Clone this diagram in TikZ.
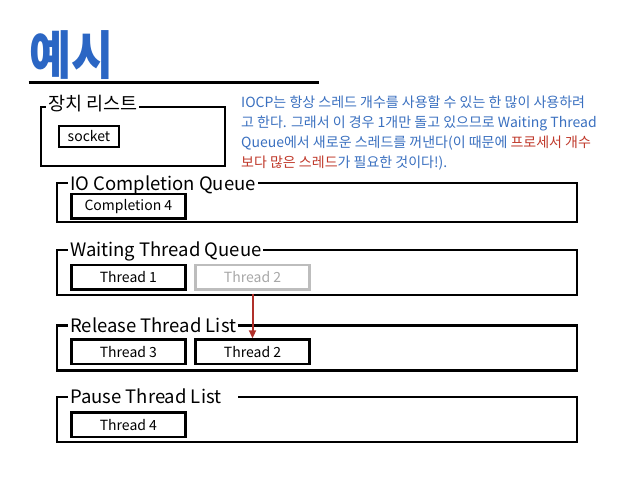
\documentclass[tikz,border=0pt]{standalone}
\usepackage{fontspec}
\setmainfont{Noto Sans CJK KR}
\usetikzlibrary{arrows.meta}
\definecolor{titleblue}{HTML}{2B66C4}
\definecolor{noteblue}{HTML}{3A70C0}
\definecolor{notered}{HTML}{C0392B}
\definecolor{arrowred}{HTML}{B0302A}
\definecolor{ghost}{HTML}{BDBDBD}
\definecolor{ghosttext}{HTML}{A8A8A8}
\begin{document}
\begin{tikzpicture}[x=1pt,y=-1pt,
  groupbox/.style={draw, line width=2.5pt, rectangle, minimum width=520pt, inner sep=0pt},
  grouplabel/.style={anchor=base west, fill=white, inner xsep=2pt, inner ysep=1pt, font=\fontsize{18.5}{22}\selectfont},
  itembox/.style={draw, line width=2.5pt, minimum width=114pt, minimum height=24.5pt, inner sep=0pt, font=\fontsize{14}{16}\selectfont},
  ghostbox/.style={itembox, draw=ghost, text=ghosttext},
  noteline/.style={anchor=base west, inner sep=0pt, text=noteblue, font=\fontsize{14}{20}\selectfont}]
\useasboundingbox[fill=white] (0,0) rectangle (638,478);

% title
\node[anchor=base west, inner sep=0pt, text=titleblue, xscale=0.88, font=\fontsize{52}{60}\selectfont\bfseries] (title) at (29,75) {예시};
\coordinate (rulel) at (28.5,82.5);
\coordinate (ruler) at (318.5,82.5);
\draw[line width=3pt] (rulel) -- (ruler);

% device list
\node[draw, line width=2.5pt, minimum width=184pt, minimum height=59pt, inner sep=0pt] (dev) at (133,136.5) {};
\node[anchor=base west, fill=white, inner xsep=2pt, inner ysep=1pt, font=\fontsize{18.5}{20}\selectfont] (devl) at (46,111) {장치 리스트};
\node[draw, line width=2.5pt, minimum width=60pt, minimum height=21pt, inner sep=0pt, font=\fontsize{14}{16}\selectfont] (sock) at (89,136.5) {socket};

% note
\node[noteline] (n1) at (241,107.7) {IOCP는 항상 스레드 개수를 사용할 수 있는 한 많이 사용하려};
\node[noteline] (n2) at (241,127.7) {고 한다. 그래서 이 경우 1개만 돌고 있으므로 Waiting Thread};
\node[noteline] (n3) at (241,147.7) {Queue에서 새로운 스레드를 꺼낸다(이 때문에 \textcolor{notered}{프로세서 개수}};
\node[noteline] (n4) at (241,167.7) {\textcolor{notered}{보다 많은 스레드}가 필요한 것이다!).};

% IO Completion Queue
\node[groupbox, minimum height=39pt] (ioq) at (317,202.7) {};
\node[grouplabel] (ioql) at (68,190.3) {IO Completion Queue};
\node[itembox] (c4) at (128.4,206.4) {Completion 4};

% Waiting Thread Queue
\node[groupbox, minimum height=45pt] (wtq) at (317,272.5) {};
\node[grouplabel] (wtql) at (68,257) {Waiting Thread Queue};
\node[itembox] (t1) at (128.4,277.3) {Thread 1};
\node[ghostbox] (t2g) at (252.5,277.2) {Thread 2};

% Release Thread List
\node[groupbox, minimum height=45pt] (rtl) at (317,347.9) {};
\node[grouplabel] (rtll) at (68,332.5) {Release Thread List};
\node[itembox] (t3) at (128.4,351.7) {Thread 3};
\node[itembox] (t2r) at (252.5,351.8) {Thread 2};

% Pause Thread List
\node[groupbox, minimum height=45pt] (ptl) at (317,419.4) {};
\node[grouplabel] (ptll) at (68,404) {Pause Thread List\hspace*{15pt}};
\node[itembox] (t4) at (128.4,424.7) {Thread 4};

% arrow
\draw[arrowred, line width=2pt, -{Triangle[length=8pt,width=7pt]}, shorten <=3pt] (t2g.south) -- (t2r.north);
\end{tikzpicture}
\end{document}
